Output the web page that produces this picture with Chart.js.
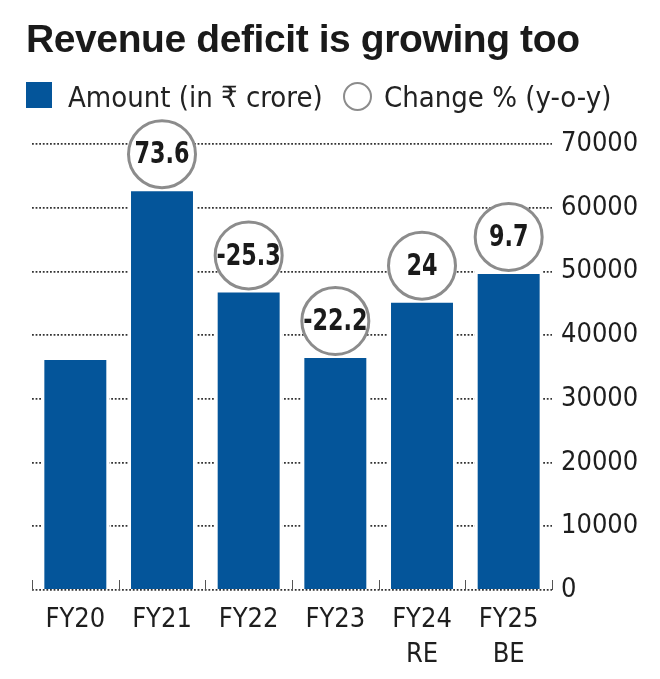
<!DOCTYPE html>
<html>
<head>
<meta charset="utf-8">
<script src="https://cdn.jsdelivr.net/npm/chart.js@4.4.1/dist/chart.umd.min.js"></script>
<style>
  html, body { margin: 0; padding: 0; background: #fff; }
  .wrap { position: relative; width: 660px; height: 679px; overflow: hidden; }
  .title { position: absolute; left: 26px; top: 19px; font: bold 39px/39px "Liberation Sans", Arial, sans-serif; color: #1a1a1a; white-space: nowrap; letter-spacing: -0.4px; }
  .legend { position: absolute; top: 82px; left: 0; font: 29px/30px "DejaVu Sans Condensed", sans-serif; color: #222; white-space: nowrap; }
  .legend span { position: absolute; top: 0; }
  .sq { position: absolute; left: 26px; top: 82px; width: 26px; height: 26px; background: #04559a; }
  .ring { position: absolute; left: 343px; top: 82px; width: 25px; height: 25px; border: 2.5px solid #8c8c8c; border-radius: 50%; }
  canvas { position: absolute; left: 0; top: 0; }
</style>
</head>
<body>
<div class="wrap">
  <canvas id="chart" width="660" height="679"></canvas>
  <div class="title">Revenue deficit is growing too</div>
  <div class="sq"></div>
  <div class="ring"></div>
  <div class="legend">
    <span style="left:68px">Amount (in ₹ crore)</span>
    <span style="left:384px">Change % (y-o-y)</span>
  </div>
</div>
<script>
const categories = [['FY20'], ['FY21'], ['FY22'], ['FY23'], ['FY24', 'RE'], ['FY25', 'BE']];
const amounts = [36100, 62600, 46700, 36400, 45100, 49600];
const changes = [null, '73.6', '-25.3', '-22.2', '24', '9.7'];
const yMin = 0, yMax = 70000, yStep = 10000;

const cond = '"DejaVu Sans Condensed", sans-serif';

// white gap round each bar, so the dotted lines stop short of it
const barHalo = {
    id: 'barHalo',
    beforeDatasetsDraw(chart) {
        const ctx = chart.ctx;
        ctx.save();
        ctx.fillStyle = '#fff';
        chart.getDatasetMeta(0).data.forEach(b => {
            const w = b.width;
            ctx.fillRect(b.x - w / 2 - 3, b.y - 3, w + 6, b.base - b.y + 1);
        });
        ctx.restore();
    }
};

// small upward ticks on the base line between categories
const baseTicks = {
    id: 'baseTicks',
    afterDatasetsDraw(chart) {
        const ctx = chart.ctx, x = chart.scales.x, y = chart.scales.y;
        const n = categories.length, step = x.width / n, y0 = y.getPixelForValue(0);
        ctx.save();
        ctx.strokeStyle = '#555';
        ctx.lineWidth = 1;
        for (let i = 0; i <= n; i++) {
            const px = Math.round(x.left + i * step) + 0.5;
            ctx.beginPath();
            ctx.moveTo(px, y0);
            ctx.lineTo(px, y0 - 10);
            ctx.stroke();
        }
        ctx.restore();
    }
};

// circled y-o-y change above each bar
const changeRings = {
    id: 'changeRings',
    afterDatasetsDraw(chart) {
        const ctx = chart.ctx;
        ctx.save();
        chart.getDatasetMeta(0).data.forEach((b, i) => {
            if (changes[i] == null) return;
            const cy = b.y - 37, r = 33.5;
            ctx.beginPath();
            ctx.arc(b.x, cy, r, 0, Math.PI * 2);
            ctx.fillStyle = '#fff';
            ctx.fill();
            ctx.lineWidth = 3;
            ctx.strokeStyle = '#8c8c8c';
            ctx.stroke();
            // squeeze the bold digits, the original face is condensed
            ctx.save();
            ctx.translate(b.x, cy + 1);
            ctx.scale(0.8, 1);
            ctx.fillStyle = '#1a1a1a';
            ctx.font = 'bold 31px ' + cond;
            ctx.textAlign = 'center';
            ctx.textBaseline = 'middle';
            ctx.fillText(changes[i], 0, 0);
            ctx.restore();
        });
        ctx.restore();
    }
};

new Chart(document.getElementById('chart'), {
    type: 'bar',
    data: {
        labels: categories,
        datasets: [{
            label: 'Amount (in ₹ crore)',
            data: amounts,
            backgroundColor: '#04559a',
            barPercentage: 0.715,
            categoryPercentage: 1
        }]
    },
    options: {
        responsive: false,
        animation: false,
        layout: { padding: { top: 144, left: 32, right: 0, bottom: 0 } },
        plugins: { legend: { display: false }, tooltip: { enabled: false } },
        scales: {
            x: {
                grid: { display: false },
                border: { display: false },
                ticks: {
                    color: '#1e1e1e',
                    font: { family: cond, size: 27, lineHeight: 1.3 },
                    padding: 4,
                    maxRotation: 0,
                    autoSkip: false
                },
                afterFit(s) { s.height = 89; }
            },
            y: {
                position: 'right',
                min: yMin,
                max: yMax,
                grid: { color: '#333', lineWidth: 1.8, drawTicks: false },
                border: { display: false, dash: [1.8, 1.8] },
                ticks: {
                    stepSize: yStep,
                    color: '#1e1e1e',
                    font: { family: cond, size: 27 },
                    padding: 9,
                    callback: v => String(v)
                },
                afterFit(s) { s.width = 108; }
            }
        }
    },
    plugins: [barHalo, baseTicks, changeRings]
});
</script>
</body>
</html>
